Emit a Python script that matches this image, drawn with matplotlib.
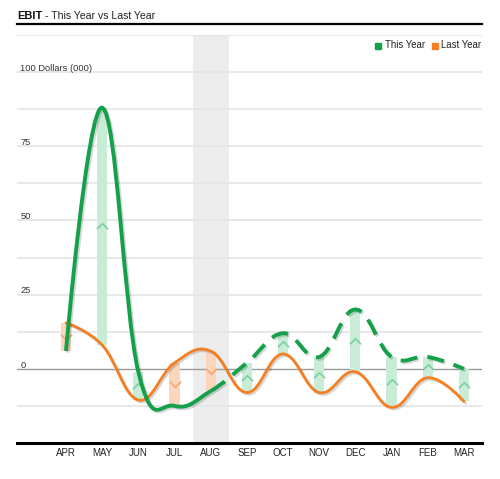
import matplotlib
matplotlib.use('Agg')
import matplotlib.pyplot as plt
import numpy as np
from matplotlib.path import Path
from matplotlib.patches import PathPatch
import matplotlib.patheffects as pe

plt.rcParams['font.family'] = ['Liberation Sans', 'DejaVu Sans']

months = ['APR', 'MAY', 'JUN', 'JUL', 'AUG', 'SEP', 'OCT', 'NOV', 'DEC', 'JAN', 'FEB', 'MAR']
this_year = [6, 88, -1, -12.5, -7.5, 2, 12, 4, 20, 4, 4, 0]
last_year = [15.5, 8, -10.5, 2, 6, -8, 5, -8, -1, -13, -3, -11]
grid_vals = [-12.5, 12.5, 25, 37.5, 50, 62.5, 75, 87.5, 100, 112.5]
label_vals = [100, 75, 50, 25, 0]
label_txt = ['100 Dollars (000)', '75', '50', '25', '0']
actual_upto = 4  # AUG, later months are forecast (dashed)

GREEN = '#15a04a'
ORANGE = '#f57e20'
GREEN_BAR = '#c9ecd7'
ORANGE_BAR = '#fbd6bd'
GREEN_ARR = '#7dcf9e'
ORANGE_ARR = '#f4a673'


def spline_path(xs, ys, i0, i1, smooth=1.5):
    # highcharts style spline between points i0..i1
    n = len(xs)
    k = 1.0 / (smooth + 1)
    lc, rc = [], []
    for i in range(n):
        if 0 < i < n - 1:
            s = (ys[i + 1] - ys[i - 1]) / (xs[i + 1] - xs[i - 1])
            dl = (xs[i] - xs[i - 1]) * k
            dr = (xs[i + 1] - xs[i]) * k
            lc.append((xs[i] - dl, ys[i] - s * dl))
            rc.append((xs[i] + dr, ys[i] + s * dr))
        else:
            lc.append((xs[i], ys[i]))
            rc.append((xs[i], ys[i]))
    verts = [(xs[i0], ys[i0])]
    codes = [Path.MOVETO]
    for i in range(i0 + 1, i1 + 1):
        verts += [rc[i - 1], lc[i], (xs[i], ys[i])]
        codes += [Path.CURVE4] * 3
    return Path(verts, codes)


fig = plt.figure(figsize=(5, 4.79), dpi=100)
ax = fig.add_axes([17 / 500, 1 - 443 / 479, 465 / 500, 408 / 479])
x = np.arange(len(months))
ax.set_xlim(-1.354, 11.5)
ax.set_ylim(-25, 112.5)

ax.axvspan(3.5, 4.5, color='#ececec', zorder=0.5, lw=0)
for g in grid_vals:
    ax.axhline(g, color='#e4e4e4', lw=1.2, zorder=1)
ax.axhline(0, color='#9a9a9a', lw=1.0, zorder=1.1)
ax.axhline(-25, color='black', lw=2.2, zorder=5, clip_on=False)

for v, t in zip(label_vals, label_txt):
    ax.annotate(t, (0, v), xycoords=('axes fraction', 'data'), xytext=(2.5, -0.6),
                textcoords='offset points', va='bottom', ha='left', fontsize=6.7, color='#333333')

# bars between this year and last year
ty = np.array(this_year)
ly = np.array(last_year)
up = ty >= ly
low = np.minimum(ty, ly)
high = np.maximum(ty, ly)
ax.bar(x, high - low, bottom=low, width=0.28,
       color=[GREEN_BAR if u else ORANGE_BAR for u in up], zorder=2, lw=0)
chev_up = Path([(-1, -0.5), (0, 0.5), (1, -0.5)], [Path.MOVETO, Path.LINETO, Path.LINETO])
chev_dn = Path([(-1, 0.5), (0, -0.5), (1, 0.5)], [Path.MOVETO, Path.LINETO, Path.LINETO])
mid = (low + high) / 2
ax.plot(x[up], mid[up], ls='none', marker=chev_up, ms=8, mew=1.2, mfc='none',
        mec=GREEN_ARR, zorder=2.5)
ax.plot(x[~up], mid[~up], ls='none', marker=chev_dn, ms=8, mew=1.2, mfc='none',
        mec=ORANGE_ARR, zorder=2.5)

shadow = [pe.SimpleLineShadow(offset=(1.2, -1.2), shadow_color='black', alpha=0.16), pe.Normal()]
xs = list(x.astype(float))

p = PathPatch(spline_path(xs, last_year, 0, len(xs) - 1), fill=False, ec=ORANGE,
              lw=2.0, zorder=3, capstyle='round', joinstyle='round')
p.set_path_effects(shadow)
ax.add_patch(p)

p = PathPatch(spline_path(xs, this_year, 0, actual_upto), fill=False, ec=GREEN,
              lw=2.8, zorder=4, capstyle='butt', joinstyle='round')
p.set_path_effects(shadow)
ax.add_patch(p)
p = PathPatch(spline_path(xs, this_year, actual_upto, len(xs) - 1), fill=False, ec=GREEN,
              lw=2.8, zorder=4, capstyle='butt', joinstyle='round', linestyle=(0, (4.4, 2.6)))
p.set_path_effects(shadow)
ax.add_patch(p)

ax.set_xticks(x)
ax.set_xticklabels(months, fontsize=7, color='#222222')
ax.tick_params(axis='x', length=0, pad=3.8)
ax.set_yticks([])
for s in ax.spines.values():
    s.set_visible(False)

# title
fig.text(17 / 500, 1 - 16 / 479, 'EBIT', fontsize=8, fontweight='bold', va='center', ha='left',
         color='#111111')
fig.text(45 / 500, 1 - 16 / 479, '- This Year vs Last Year', fontsize=7.6, va='center', ha='left',
         color='#222222')
fig.add_artist(plt.Line2D([17 / 500, 482 / 500], [1 - 24 / 479] * 2, color='black', lw=1.6))

# legend
fig.add_artist(plt.Line2D([378 / 500], [1 - 45.5 / 479], marker='s', ms=5, color=GREEN, ls='none'))
fig.text(385 / 500, 1 - 45.5 / 479, 'This Year', fontsize=6.9, va='center', ha='left', color='#222222')
fig.add_artist(plt.Line2D([435 / 500], [1 - 45.5 / 479], marker='s', ms=5, color=ORANGE, ls='none'))
fig.text(441 / 500, 1 - 45.5 / 479, 'Last Year', fontsize=6.9, va='center', ha='left', color='#222222')

fig.savefig('out.png', dpi=100)
